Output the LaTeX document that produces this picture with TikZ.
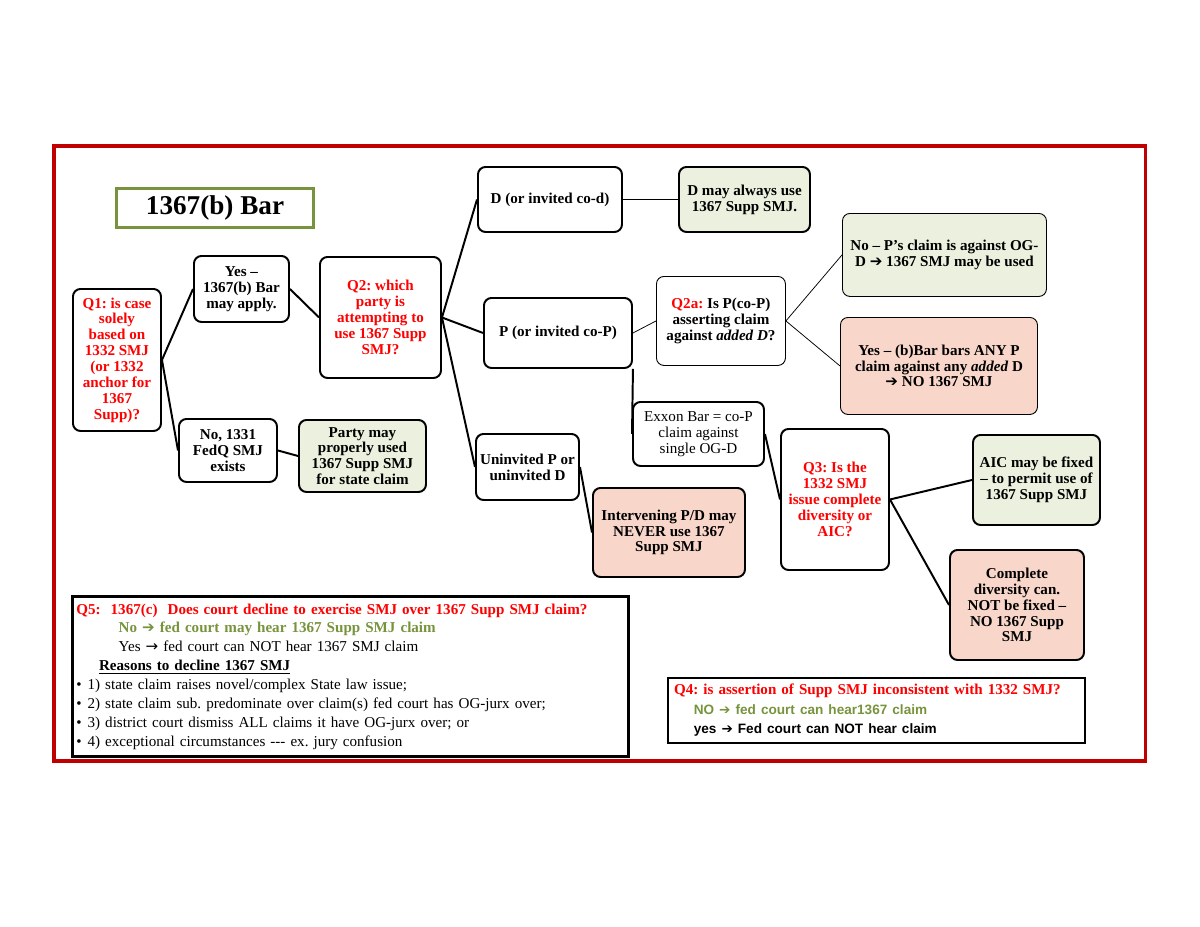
\documentclass[tikz,border=0pt]{standalone}
\usepackage{fontspec}
\setmainfont{Liberation Serif}
\newfontfamily\arialfont{Liberation Sans}
\newfontfamily\symfont{DejaVu Sans}
\newcommand{\fatarrow}{{\symfont\char"2794}}
\newcommand{\thinarrow}{{\symfont\char"2192}}
\newcommand{\boxfont}{\fontsize{10}{10.5}\selectfont}
\definecolor{goodfill}{RGB}{235,241,222}
\definecolor{badfill}{RGB}{248,215,202}
\definecolor{leafgreen}{RGB}{119,147,60}
\definecolor{framered}{RGB}{192,0,0}
\frenchspacing
\tikzset{
	box/.style={draw, line width=1.3pt, rounded corners=5pt, align=center, inner sep=1pt, anchor=north west, font=\bfseries\boxfont},
	thinbox/.style={box, line width=0.6pt},
	sz/.style 2 args={minimum width=#1*0.66bp, minimum height=#2*0.66bp},
	good/.style={fill=goodfill},
	bad/.style={fill=badfill},
	ask/.style={text=red},
	link/.style={line width=1.3pt},
	thinlink/.style={line width=0.5pt},
	notebox/.style={draw, anchor=north west, align=left, inner sep=2.5bp},
}

\begin{document}
\begin{tikzpicture}[x=0.66bp,y=-0.66bp]
	\useasboundingbox (0,0) rectangle (1200,927);
	\draw[framered, line width=2pt] (54,146) rectangle (1145,761);
	\node[draw=leafgreen, line width=2pt, anchor=north west, font=\bfseries\fontsize{18}{20}\selectfont, sz={197}{39}] (title) at (115,187) {1367(b) Bar};

	\node[box, ask, sz={88}{142}] (q1) at (72,288) {Q1: is case\\ solely\\ based on\\ 1332 SMJ\\ (or 1332\\ anchor for\\ 1367\\ Supp)?};
	\node[box, sz={95}{66}] (yes) at (193,255) {Yes --\\ 1367(b) Bar\\ may apply.};
	\node[box, sz={98}{63}] (no) at (178,418) {No, 1331\\ FedQ SMJ\\ exists};
	\node[box, good, sz={127}{72}] (party) at (298,419) {Party may\\ properly used\\ 1367 Supp SMJ\\ for state claim};
	\node[box, ask, sz={121}{121}] (q2) at (319,256) {Q2: which\\ party is\\ attempting to\\ use 1367 Supp\\ SMJ?};

	\node[box, sz={144}{65}] (d) at (477,166) {D (or invited co-d)};
	\node[box, good, sz={131}{65}] (dmay) at (678,166) {D may always use\\ 1367 Supp SMJ.};
	\node[box, sz={148}{70}] (p) at (483,297) {P (or invited co-P)};
	\node[thinbox, sz={129}{89}] (q2a) at (656,276) {\textcolor{red}{Q2a:} Is P(co-P)\\ asserting claim\\ against \textit{added D}?};
	\node[thinbox, good, sz={204}{83}] (nop) at (842,213) {No -- P's claim is against OG-\\ D \fatarrow{} 1367 SMJ may be used};
	\node[thinbox, bad, sz={197}{97}] (yesb) at (840,317) {Yes -- (b)Bar bars ANY P\\ claim against any \textit{added} D\\ \fatarrow{} NO 1367 SMJ};
	\node[box, font=\boxfont, sz={131}{64}] (exxon) at (632,401) {Exxon Bar = co-P\\ claim against\\ single OG-D};
	\node[box, ask, sz={108}{141}] (q3) at (780,428) {Q3: Is the\\ 1332 SMJ\\ issue complete\\ diversity or\\ AIC?};
	\node[box, good, sz={127}{90}] (aic) at (972,434) {AIC may be fixed\\ -- to permit use of\\ 1367 Supp SMJ};
	\node[box, bad, sz={134}{110}] (comp) at (949,549) {Complete\\ diversity can.\\ NOT be fixed --\\ NO 1367 Supp\\ SMJ};
	\node[box, sz={103}{66}] (uninv) at (475,433) {Uninvited P or\\ uninvited D};
	\node[box, bad, sz={152}{89}] (interv) at (592,487) {Intervening P/D may\\ NEVER use 1367\\ Supp SMJ};

	\draw[link] (q1.east) -- (yes.west);
	\draw[link] (q1.east) -- (no.west);
	\draw[link] (yes.east) -- (q2.west);
	\draw[link] (no.east) -- (party.west);
	\draw[link] (q2.east) -- (d.west);
	\draw[link] (q2.east) -- (p.west);
	\draw[link] (q2.east) -- (uninv.west);
	\draw[link] (d.east) -- (dmay.west);
	\draw[thinlink] (p.east) -- (q2a.west);
	\draw[link] (p.south east) -- (exxon.west);
	\draw[thinlink] (q2a.east) -- (nop.west);
	\draw[thinlink] (q2a.east) -- (yesb.west);
	\draw[link] (exxon.east) -- (q3.west);
	\draw[link] (q3.east) -- (aic.west);
	\draw[link] (q3.east) -- (comp.west);
	\draw[link] (uninv.east) -- (interv.west);

	\node[notebox, line width=2pt, text width=362bp, minimum height=105.6bp, font=\fontsize{10}{12.5}\selectfont] (q5) at (71,595) {%
		\textcolor{red}{\bfseries Q5:\ \ 1367(c)\ \ Does court decline to exercise SMJ over 1367 Supp SMJ claim?}\\
		\hspace*{28bp}\textcolor{leafgreen}{\bfseries No \fatarrow{} fed court may hear 1367 Supp SMJ claim}\\
		\hspace*{28bp}Yes \thinarrow{} fed court can NOT hear 1367 SMJ claim\\
		\hspace*{15bp}\textbf{\underline{Reasons to decline 1367 SMJ}}\\
		•\hspace{4bp}1) state claim raises novel/complex State law issue;\\
		•\hspace{4bp}2) state claim sub. predominate over claim(s) fed court has OG-jurx over;\\
		•\hspace{4bp}3) district court dismiss ALL claims it have OG-jurx over; or\\
		•\hspace{4bp}4) exceptional circumstances -{}-{}- ex. jury confusion};

	\node[notebox, line width=1.4pt, text width=267bp, minimum height=42.2bp, inner sep=4bp, font=\fontsize{10}{12.9}\selectfont] (q4) at (667,677) {%
		\textcolor{red}{\bfseries Q4: is assertion of Supp SMJ inconsistent with 1332 SMJ?}\\
		\hspace*{13bp}\textcolor{leafgreen}{\arialfont\bfseries\fontsize{9}{12.9}\selectfont NO \fatarrow{} fed court can hear1367 claim}\\
		\hspace*{13bp}{\arialfont\bfseries\fontsize{9}{12.9}\selectfont yes \fatarrow{} Fed court can NOT hear claim}};
\end{tikzpicture}
\end{document}
